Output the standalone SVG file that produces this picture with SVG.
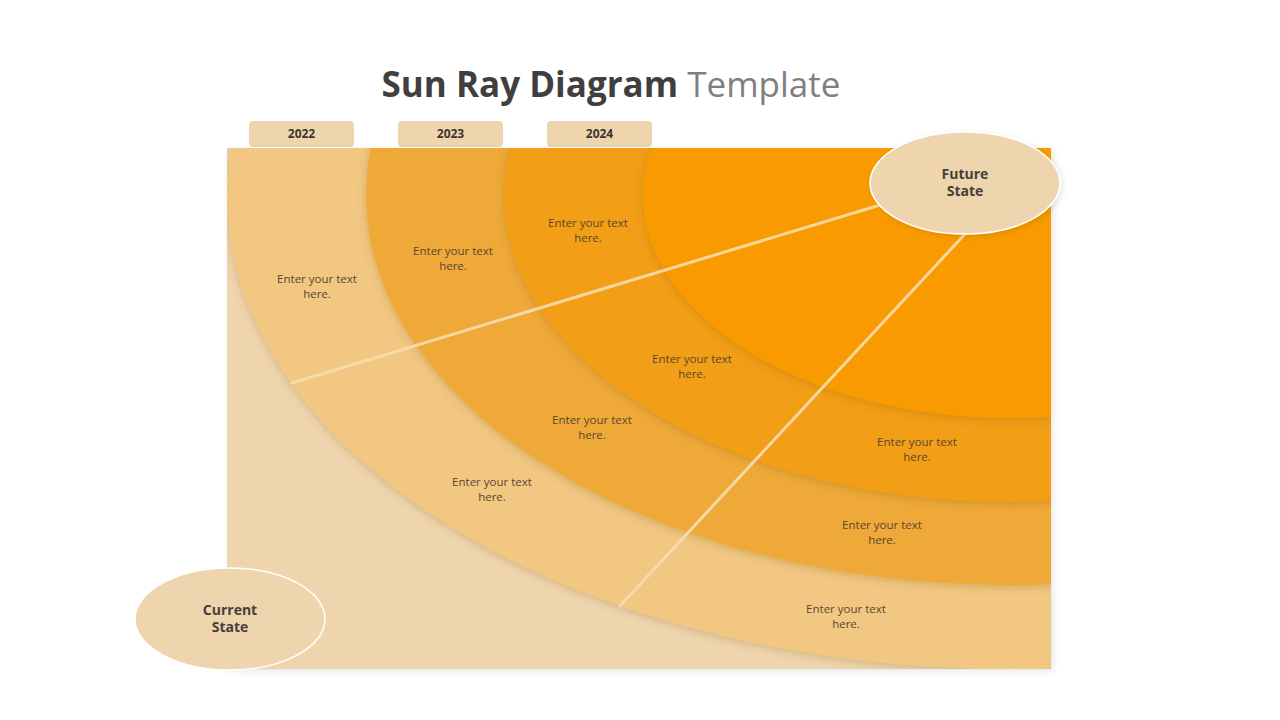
<svg xmlns="http://www.w3.org/2000/svg" width="1280" height="720" viewBox="0 0 1280 720">
  <defs>
    <clipPath id="panel">
      <rect x="227" y="148" width="824" height="521"/>
    </clipPath>
    <filter id="sh" x="-10%" y="-10%" width="120%" height="120%">
      <feDropShadow dx="0" dy="2" stdDeviation="4" flood-color="#8a5a00" flood-opacity="0.28"/>
    </filter>
    <filter id="sh2" x="-10%" y="-10%" width="120%" height="120%">
      <feDropShadow dx="2" dy="2" stdDeviation="3" flood-color="#000" flood-opacity="0.10"/>
    </filter>
  </defs>
  <style>
    .title { font-family: "Open Sans", "Noto Sans", sans-serif; font-size: 35px; }
    .tab { fill: #EED5AE; }
    .tabtxt { font-family: "Open Sans", "Liberation Sans", sans-serif; font-size: 12px; font-weight: 700; fill: #3C3630; text-anchor: middle; }
    .lbl { font-family: "Open Sans", "Liberation Sans", sans-serif; font-size: 11.5px; fill: #5A4632; text-anchor: middle; }
    .state { fill: #EED5AE; stroke: #FFFFFF; stroke-width: 1.5; }
    .statetxt { font-family: "Open Sans", "Liberation Sans", sans-serif; font-size: 14px; font-weight: 700; fill: #45403A; text-anchor: middle; }
    .ray { stroke: #F8DDB0; stroke-width: 3; stroke-linecap: round; opacity: 0.9; }
  </style>

  <rect width="1280" height="720" fill="#FFFFFF"/>

  <g id="title">
    <text class="title" x="611" y="97" text-anchor="middle"><tspan font-weight="700" fill="#3F3F3F">Sun Ray Diagram</tspan><tspan fill="#7F7F7F"> Template</tspan></text>
  </g>

  <g id="tabs">
    <g id="tab-2022">
      <rect class="tab" x="249" y="121" width="105" height="26" rx="4"/>
      <text class="tabtxt" x="301.5" y="138">2022</text>
    </g>
    <g id="tab-2023">
      <rect class="tab" x="398" y="121" width="105" height="26" rx="4"/>
      <text class="tabtxt" x="450.5" y="138">2023</text>
    </g>
    <g id="tab-2024">
      <rect class="tab" x="547" y="121" width="105" height="26" rx="4"/>
      <text class="tabtxt" x="599.5" y="138">2024</text>
    </g>
  </g>

  <g id="panel-bg" filter="url(#sh2)">
    <rect x="227" y="148" width="824" height="521" fill="#EED5AE"/>
  </g>

  <g id="rings" clip-path="url(#panel)">
    <g id="ring1"><ellipse cx="1010" cy="195" rx="783" ry="474" fill="#F1C782" filter="url(#sh)"/></g>
    <g id="ring2"><ellipse cx="1010" cy="195" rx="644" ry="390" fill="#EEA938" filter="url(#sh)"/></g>
    <g id="ring3"><ellipse cx="1010" cy="195" rx="506" ry="307" fill="#F29E14" filter="url(#sh)"/></g>
    <g id="ring4"><ellipse cx="1010" cy="195" rx="367" ry="223" fill="#F99B02" filter="url(#sh)"/></g>
  </g>

  <g id="connectors">
    <line class="ray" x1="880" y1="205" x2="292" y2="383"/>
    <line class="ray" x1="965" y1="234" x2="620" y2="606"/>
  </g>

  <g id="labels">
    <g id="l1"><text class="lbl" x="317" y="283">Enter your text</text><text class="lbl" x="317" y="298">here.</text></g>
    <g id="l2"><text class="lbl" x="453" y="255">Enter your text</text><text class="lbl" x="453" y="270">here.</text></g>
    <g id="l3"><text class="lbl" x="588" y="227">Enter your text</text><text class="lbl" x="588" y="242">here.</text></g>
    <g id="l4"><text class="lbl" x="692" y="363">Enter your text</text><text class="lbl" x="692" y="378">here.</text></g>
    <g id="l5"><text class="lbl" x="592" y="424">Enter your text</text><text class="lbl" x="592" y="439">here.</text></g>
    <g id="l6"><text class="lbl" x="492" y="486">Enter your text</text><text class="lbl" x="492" y="501">here.</text></g>
    <g id="l7"><text class="lbl" x="917" y="446">Enter your text</text><text class="lbl" x="917" y="461">here.</text></g>
    <g id="l8"><text class="lbl" x="882" y="529">Enter your text</text><text class="lbl" x="882" y="544">here.</text></g>
    <g id="l9"><text class="lbl" x="846" y="613">Enter your text</text><text class="lbl" x="846" y="628">here.</text></g>
  </g>

  <g id="future-state">
    <ellipse class="state" cx="965" cy="183" rx="95" ry="51" filter="url(#sh2)"/>
    <text class="statetxt" x="965" y="178.5">Future</text>
    <text class="statetxt" x="965" y="196">State</text>
  </g>

  <g id="current-state">
    <ellipse class="state" cx="230" cy="619" rx="95" ry="51"/>
    <text class="statetxt" x="230" y="614.5">Current</text>
    <text class="statetxt" x="230" y="632">State</text>
  </g>
</svg>
